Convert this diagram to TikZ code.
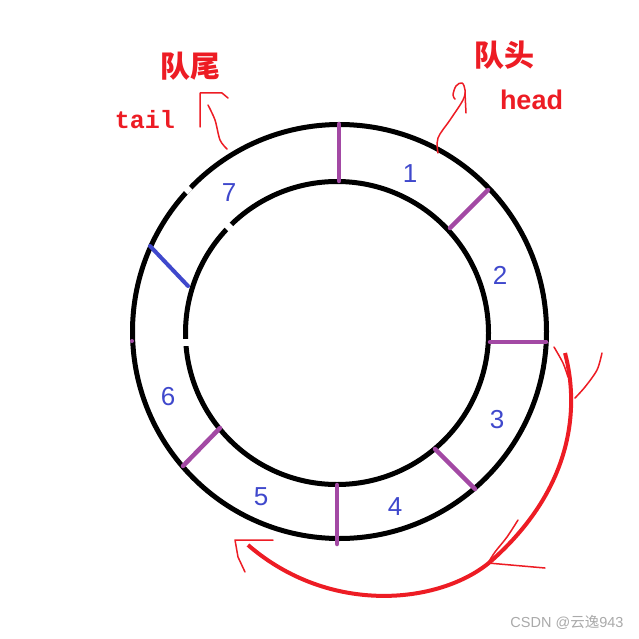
\documentclass[tikz,border=0pt]{standalone}
\usepackage{fontspec}
\setmainfont{Liberation Sans}
\newfontfamily\cjk{Noto Sans CJK SC}
\newfontfamily\monof{Liberation Mono}
\definecolor{rd}{RGB}{237,28,36}
\definecolor{pur}{RGB}{163,73,164}
\definecolor{blu}{RGB}{63,72,204}
\definecolor{wm}{RGB}{170,170,170}
\tikzset{
  ringline/.style={draw=black,line width=5pt},
  spoke/.style={draw=pur,line width=4.5pt,line cap=round},
  bluespoke/.style={draw=blu,line width=4pt,line cap=round},
  gapmark/.style={draw=white,line width=7pt},
  sketch/.style={draw=rd,line width=1.5pt,line join=round,line cap=round},
  bigstroke/.style={draw=rd,line width=4pt,line join=round},
  num/.style={text=blu,font=\fontsize{26}{26}\selectfont,inner sep=0pt},
  cjklabel/.style={text=rd,font=\cjk\bfseries\fontsize{30}{30}\selectfont,inner sep=0pt},
}
\begin{document}
\begin{tikzpicture}[x=1pt,y=-1pt]
\useasboundingbox[fill=white] (0,0) rectangle (638,639);
% rings
\draw[ringline] (339.5,331.5) circle (207);
\draw[ringline] (337,333) circle (151.5);
% gaps
\draw[gapmark] (185,187) -- (190,192);
\draw[gapmark] (225,223) -- (231,229);
\draw[gapmark] (178,342) -- (192,342);
% spokes
\coordinate (s1a) at (339,124); \coordinate (s1b) at (339,181);
\coordinate (s2a) at (488,190); \coordinate (s2b) at (450,228);
\coordinate (s3a) at (546,342); \coordinate (s3b) at (490,342);
\coordinate (s4a) at (475,489); \coordinate (s4b) at (435,449);
\coordinate (s5a) at (337,544); \coordinate (s5b) at (337,485);
\coordinate (s6a) at (183,466); \coordinate (s6b) at (220,428);
\coordinate (s7a) at (150,246); \coordinate (s7b) at (188,286);
\draw[spoke] (s1a) -- (s1b);
\draw[spoke] (s2a) -- (s2b);
\draw[spoke] (s3a) -- (s3b);
\draw[spoke] (s4a) -- (s4b);
\draw[spoke] (s5a) -- (s5b);
\draw[spoke] (s6a) -- (s6b);
\draw[bluespoke] (s7a) -- (s7b);
\fill[pur] (132,341) circle (2);
% numbers
\node[num] (n1) at (410,174) {1};
\node[num] (n2) at (500,275) {2};
\node[num] (n3) at (497,420) {3};
\node[num] (n4) at (395,507) {4};
\node[num] (n5) at (261,497) {5};
\node[num] (n6) at (168,397) {6};
\node[num] (n7) at (229,193) {7};
% labels
\node[cjklabel] (qw) at (190,66) {队尾};
\node[cjklabel] (qt) at (504,55) {队头};
\node[text=rd,font=\monof\bfseries\fontsize{25}{25}\selectfont,inner sep=0pt] (tl) at (145,120) {tail};
\node[text=rd,font=\bfseries\fontsize{27}{27}\selectfont,inner sep=0pt] (hd) at (531.5,100) {head};
% sketched pointers
\draw[sketch] (200,127) -- (200,93) -- (222,93) -- (228,98);
\draw[sketch] plot[smooth,tension=0.5] coordinates {(208,105) (215,120) (220,140) (227,149)};
\draw[sketch] plot[smooth,tension=0.6] coordinates {(438,153) (438,138) (450,120) (463,100) (465,90) (462,83) (456,86) (453,95) (455,99)};
\draw[sketch] (465,93) -- (466,113);
% big arrow
\draw[bigstroke] (565,353) .. controls (580,410) and (572,490) .. (490,562) .. controls (440,604) and (330,616) .. (248,545);
\draw[sketch] plot[smooth,tension=0.5] coordinates {(554,347) (563,363) (568,377)};
\draw[sketch] plot[smooth,tension=0.5] coordinates {(602,353) (597,370) (585,387) (575,398)};
\draw[sketch] plot[smooth,tension=0.5] coordinates {(518,520) (507,537) (495,552) (488,563)};
\draw[sketch] (488,563) -- (545,568);
\draw[sketch] (273,540) -- (235,540) -- (238,557) -- (245,572);
% watermark
\node[text=wm,font=\fontsize{14.5}{14.5}\selectfont,inner sep=0pt] (wmk) at (567,622) {CSDN @{\cjk 云逸}943};
\end{tikzpicture}
\end{document}
